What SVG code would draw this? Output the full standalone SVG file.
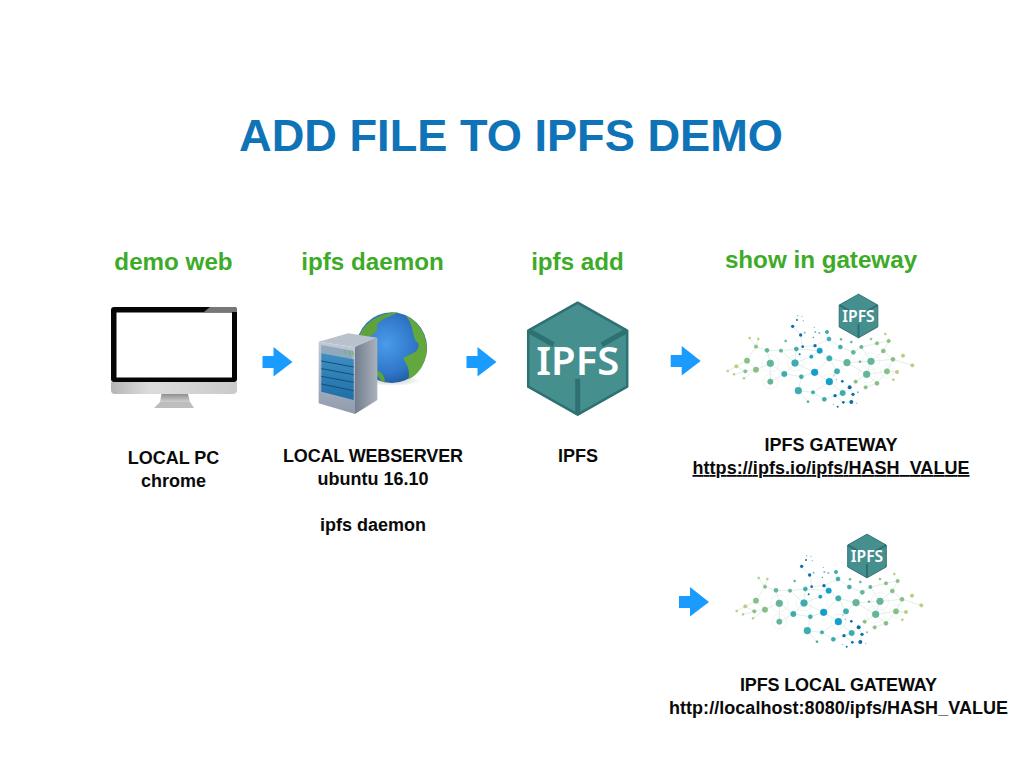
<svg xmlns="http://www.w3.org/2000/svg" width="1024" height="768" viewBox="0 0 1024 768">
<style>
text{font-family:"Liberation Sans",Arial,sans-serif;font-weight:700;text-anchor:middle}
.title{font-size:45.200px;fill:#0f73b8}
.head{font-size:24.200px;fill:#3dab27}
.lab{font-size:18px;fill:#0a0a0a}
.edge{stroke:#dcece8;stroke-width:2.500;fill:none}
</style>
<defs>
<path id="arrow" d="M-30-6H-19V-15L0 0L-19 14.500V6H-30Z" fill="#1a9bff"/>
<linearGradient id="chin" x1="0" x2="1" y1="0" y2="0"><stop offset="0" stop-color="#b5b5b5"/><stop offset=".3" stop-color="#dcdcdc"/><stop offset="1" stop-color="#cacaca"/></linearGradient>
<linearGradient id="stand" x1="0" x2="0" y1="0" y2="1"><stop offset="0" stop-color="#8f8f8f"/><stop offset="1" stop-color="#d0d0d0"/></linearGradient>
<radialGradient id="globe" cx=".42" cy=".45" r=".6"><stop offset="0" stop-color="#4a9bea"/><stop offset=".7" stop-color="#2f76c8"/><stop offset="1" stop-color="#1f5a9c"/></radialGradient>
<linearGradient id="face" x1="0" x2="0" y1="0" y2="1"><stop offset="0" stop-color="#c2cad6"/><stop offset="1" stop-color="#8f9bad"/></linearGradient>
<linearGradient id="side" x1="0" x2="1" y1="0" y2="0"><stop offset="0" stop-color="#737d8c"/><stop offset="1" stop-color="#aab2bd"/></linearGradient>
<linearGradient id="bay" x1="0" x2="0" y1="0" y2="1"><stop offset="0" stop-color="#3f8fc4"/><stop offset="1" stop-color="#1f6ea6"/></linearGradient>
<radialGradient id="shade" cx=".5" cy=".5" r=".5"><stop offset="0" stop-color="#000" stop-opacity=".22"/><stop offset="1" stop-color="#000" stop-opacity="0"/></radialGradient>
<g id="hex">
<path d="M0-56L49.500-28V28L0 56L-49.500 28V-28Z" fill="#45908f" stroke="#2f7072" stroke-width="2.500" stroke-linejoin="round"/>
<path d="M-49-28L-24-14M49-28L24-14M0 20V56" stroke="#2f7072" stroke-width="5" fill="none"/>
<text x="0" y="16" font-size="40" style="text-anchor:middle;font-family:'Noto Sans','Open Sans',sans-serif;font-weight:600;fill:#fff">IPFS</text>
</g>
<g id="net">
<path class="edge" d="M203 258L229 244L261 227L288 254L331 235L373 267L405 234L464 262L508 220L561 233L633 229L699 223L757 241M229 244L256 259L288 254M222 268L256 259M252 280L288 254M261 227L288 185L321 196L331 235L331 290L373 267L424 275L415 317L459 322L508 290L464 262L424 275M269 159L288 185L295 162M321 196L363 197L405 234L409 192L363 197M409 192L479 197L454 215L405 234M479 197L508 220L531 259L508 290L548 324L493 343L459 322M507 162L541 186L580 202L561 233L531 259M580 202L604 186L633 229L620 268L651 295L681 259L711 261M620 268L561 233M633 229L670 198L699 223L681 259L620 268M670 198L686 168L651 175L604 186M617 307L651 295M587 290L620 268M398 124L422 150L428 185L465 182L479 197M507 162L465 182M415 317L444 350M548 324L569 307L579 328L574 351L550 352L525 332L548 324"/>
<g fill="none" stroke="#e6f1ee" stroke-width="2"><circle cx="331" cy="235" r="26"/><circle cx="331" cy="290" r="22"/><circle cx="405" cy="234" r="24"/><circle cx="633" cy="229" r="26"/><circle cx="620" cy="268" r="26"/><circle cx="508" cy="290" r="22"/><circle cx="681" cy="259" r="20"/></g>
<g fill="#b5cf7a" stroke="#b5cf7a" stroke-width="2"><circle cx="203" cy="258" r="3"/><circle cx="222" cy="268" r="3"/><circle cx="252" cy="280" r="3"/><circle cx="757" cy="241" r="5"/><circle cx="729" cy="212" r="5"/><circle cx="711" cy="261" r="5"/><circle cx="229" cy="244" r="5"/><circle cx="269" cy="159" r="3"/><circle cx="295" cy="162" r="3"/><circle cx="676" cy="147" r="3"/><circle cx="700" cy="284" r="3"/></g>
<g fill="#86bf85" stroke="#86bf85" stroke-width="2"><circle cx="256" cy="259" r="5"/><circle cx="261" cy="227" r="8"/><circle cx="288" cy="254" r="8"/><circle cx="288" cy="185" r="5"/><circle cx="681" cy="259" r="8"/><circle cx="699" cy="223" r="6"/><circle cx="670" cy="198" r="6"/><circle cx="686" cy="168" r="5"/><circle cx="651" cy="175" r="5"/><circle cx="651" cy="295" r="6"/><circle cx="633" cy="162" r="3"/><circle cx="617" cy="307" r="5"/><circle cx="587" cy="290" r="5"/></g>
<g fill="#62b596" stroke="#62b596" stroke-width="2"><circle cx="321" cy="196" r="6"/><circle cx="331" cy="235" r="10"/><circle cx="331" cy="290" r="8"/><circle cx="363" cy="197" r="5"/><circle cx="377" cy="168" r="3"/><circle cx="633" cy="229" r="10"/><circle cx="620" cy="268" r="10"/><circle cx="580" cy="202" r="6"/><circle cx="604" cy="186" r="5"/><circle cx="561" cy="233" r="10"/><circle cx="574" cy="171" r="3"/><circle cx="543" cy="163" r="3"/><circle cx="600" cy="230" r="3"/></g>
<g fill="#3dacae" stroke="#3dacae" stroke-width="2"><circle cx="373" cy="267" r="8"/><circle cx="405" cy="234" r="10"/><circle cx="409" cy="192" r="6"/><circle cx="424" cy="275" r="6"/><circle cx="415" cy="317" r="10"/><circle cx="508" cy="220" r="8"/><circle cx="507" cy="162" r="6"/><circle cx="501" cy="141" r="5"/><circle cx="541" cy="186" r="6"/><circle cx="531" cy="259" r="8"/><circle cx="548" cy="324" r="8"/><circle cx="493" cy="343" r="6"/><circle cx="459" cy="322" r="5"/><circle cx="444" cy="350" r="3"/></g>
<g fill="#129fc9" stroke="#129fc9" stroke-width="2"><circle cx="464" cy="262" r="10"/><circle cx="479" cy="197" r="8"/><circle cx="454" cy="215" r="5"/><circle cx="508" cy="290" r="10"/></g>
<g fill="#0b6fa6"><circle cx="398" cy="124" r="5"/><circle cx="422" cy="150" r="5"/><circle cx="428" cy="185" r="4"/><circle cx="465" cy="182" r="5"/><circle cx="419" cy="208" r="3"/><circle cx="547" cy="289" r="4"/><circle cx="569" cy="307" r="6"/><circle cx="525" cy="332" r="5"/><circle cx="579" cy="328" r="5"/><circle cx="574" cy="351" r="6"/><circle cx="550" cy="352" r="4"/><circle cx="533" cy="365" r="3"/><circle cx="411" cy="105" r="3"/><circle cx="460" cy="157" r="2"/></g>
<g fill="#7fb4d0"><circle cx="413" cy="92" r="2"/><circle cx="426" cy="94" r="2"/><circle cx="430" cy="107" r="2"/><circle cx="434" cy="143" r="3"/><circle cx="466" cy="141" r="3"/><circle cx="478" cy="144" r="3"/><circle cx="463" cy="127" r="2"/><circle cx="594" cy="322" r="3"/><circle cx="590" cy="355" r="2"/><circle cx="522" cy="270" r="2"/><circle cx="530" cy="283" r="2"/><circle cx="520" cy="358" r="2"/></g>
</g>
</defs>
<rect width="1024" height="768" fill="#fff"/>
<g id="title"><text class="title" x="511" y="151">ADD FILE TO IPFS DEMO</text></g>
<g id="connectors">
<use href="#arrow" x="292.500" y="362"/>
<use href="#arrow" x="496.500" y="362"/>
<use href="#arrow" x="700.700" y="361"/>
<use href="#arrow" x="709" y="602"/>
</g>
<g id="node-local-pc">
<text class="head" x="173.500" y="270">demo web</text>
<rect x="111" y="307" width="126" height="75" rx="3" fill="#050505"/>
<path d="M210 307H234Q237 307 237 310V312H204Z" fill="#777"/>
<rect x="116.500" y="312.500" width="115.500" height="65" fill="#fff"/>
<path d="M111 382H237V390Q237 394 233 394H115Q111 394 111 390Z" fill="url(#chin)"/>
<path d="M161.500 394H188L190 402H160Z" fill="url(#stand)"/>
<path d="M160 402H190L194 408H154Z" fill="#bdbdbd"/>
<text class="lab" x="173.500" y="464">LOCAL PC</text>
<text class="lab" x="173.500" y="487">chrome</text>
</g>
<g id="node-webserver">
<text class="head" x="372.500" y="270">ipfs daemon</text>
<g transform="translate(90 290) scale(.33333)">
<ellipse cx="905" cy="272" rx="90" ry="16" fill="url(#shade)"/>
<circle cx="905" cy="173" r="106" fill="url(#globe)"/>
<path d="M806 140C825 95 870 68 925 67C905 80 870 85 860 108C870 125 835 150 806 140Z" fill="#5fa13b"/>
<path d="M945 75C985 95 1010 130 1011 180C1005 225 985 255 955 268C962 240 950 225 940 205C960 190 990 190 985 160C965 150 975 105 945 75Z" fill="#62a83d"/>
<path d="M855 240C880 245 885 265 885 278C870 272 860 258 855 240Z" fill="#5fa13b"/>
<path d="M686 155L775 130L862 143L795 172Z" fill="#b9c1cd"/>
<path d="M686 155L795 172V372L686 340Z" fill="url(#face)"/>
<path d="M795 172L862 143V330L795 372Z" fill="url(#side)"/>
<path d="M694 165L788 182V208L694 192Z" fill="#8fa9bd"/>
<path d="M694 190L791 208V330L694 305Z" fill="url(#bay)"/>
<g stroke="#0f4f7c" stroke-width="3" fill="none"><path d="M694 213L791 231M694 236L791 254M694 259L791 277M694 282L791 302"/></g>
<path d="M765 180l2 12M778 182l2 12M788 184l2 12" stroke="#6fb04a" stroke-width="3"/>
</g>
<text class="lab" x="373" y="461.500" textLength="180">LOCAL WEBSERVER</text>
<text class="lab" x="373" y="484.500">ubuntu 16.10</text>
<text class="lab" x="373" y="531">ipfs daemon</text>
</g>
<g id="node-ipfs">
<text class="head" x="577.500" y="270">ipfs add</text>
<use href="#hex" transform="translate(577.700 358.700)"/>
<text class="lab" x="578" y="461.500">IPFS</text>
</g>
<g id="node-gateway">
<text class="head" x="821" y="268">show in gateway</text>
<use href="#net" transform="translate(660 285) scale(.33333)"/>
<use href="#hex" transform="translate(858.500 316) scale(.39)"/>
<text class="lab" x="831" y="451">IPFS GATEWAY</text>
<text class="lab" x="831" y="474" text-decoration="underline" textLength="277">https://ipfs.io/ipfs/HASH_VALUE</text>
</g>
<g id="node-local-gateway">
<use href="#net" transform="translate(669 525) scale(.33333)"/>
<use href="#hex" transform="translate(867 556) scale(.39)"/>
<text class="lab" x="838.500" y="691" textLength="197">IPFS LOCAL GATEWAY</text>
<text class="lab" x="838.500" y="714" textLength="339">http://localhost:8080/ipfs/HASH_VALUE</text>
</g>
</svg>
